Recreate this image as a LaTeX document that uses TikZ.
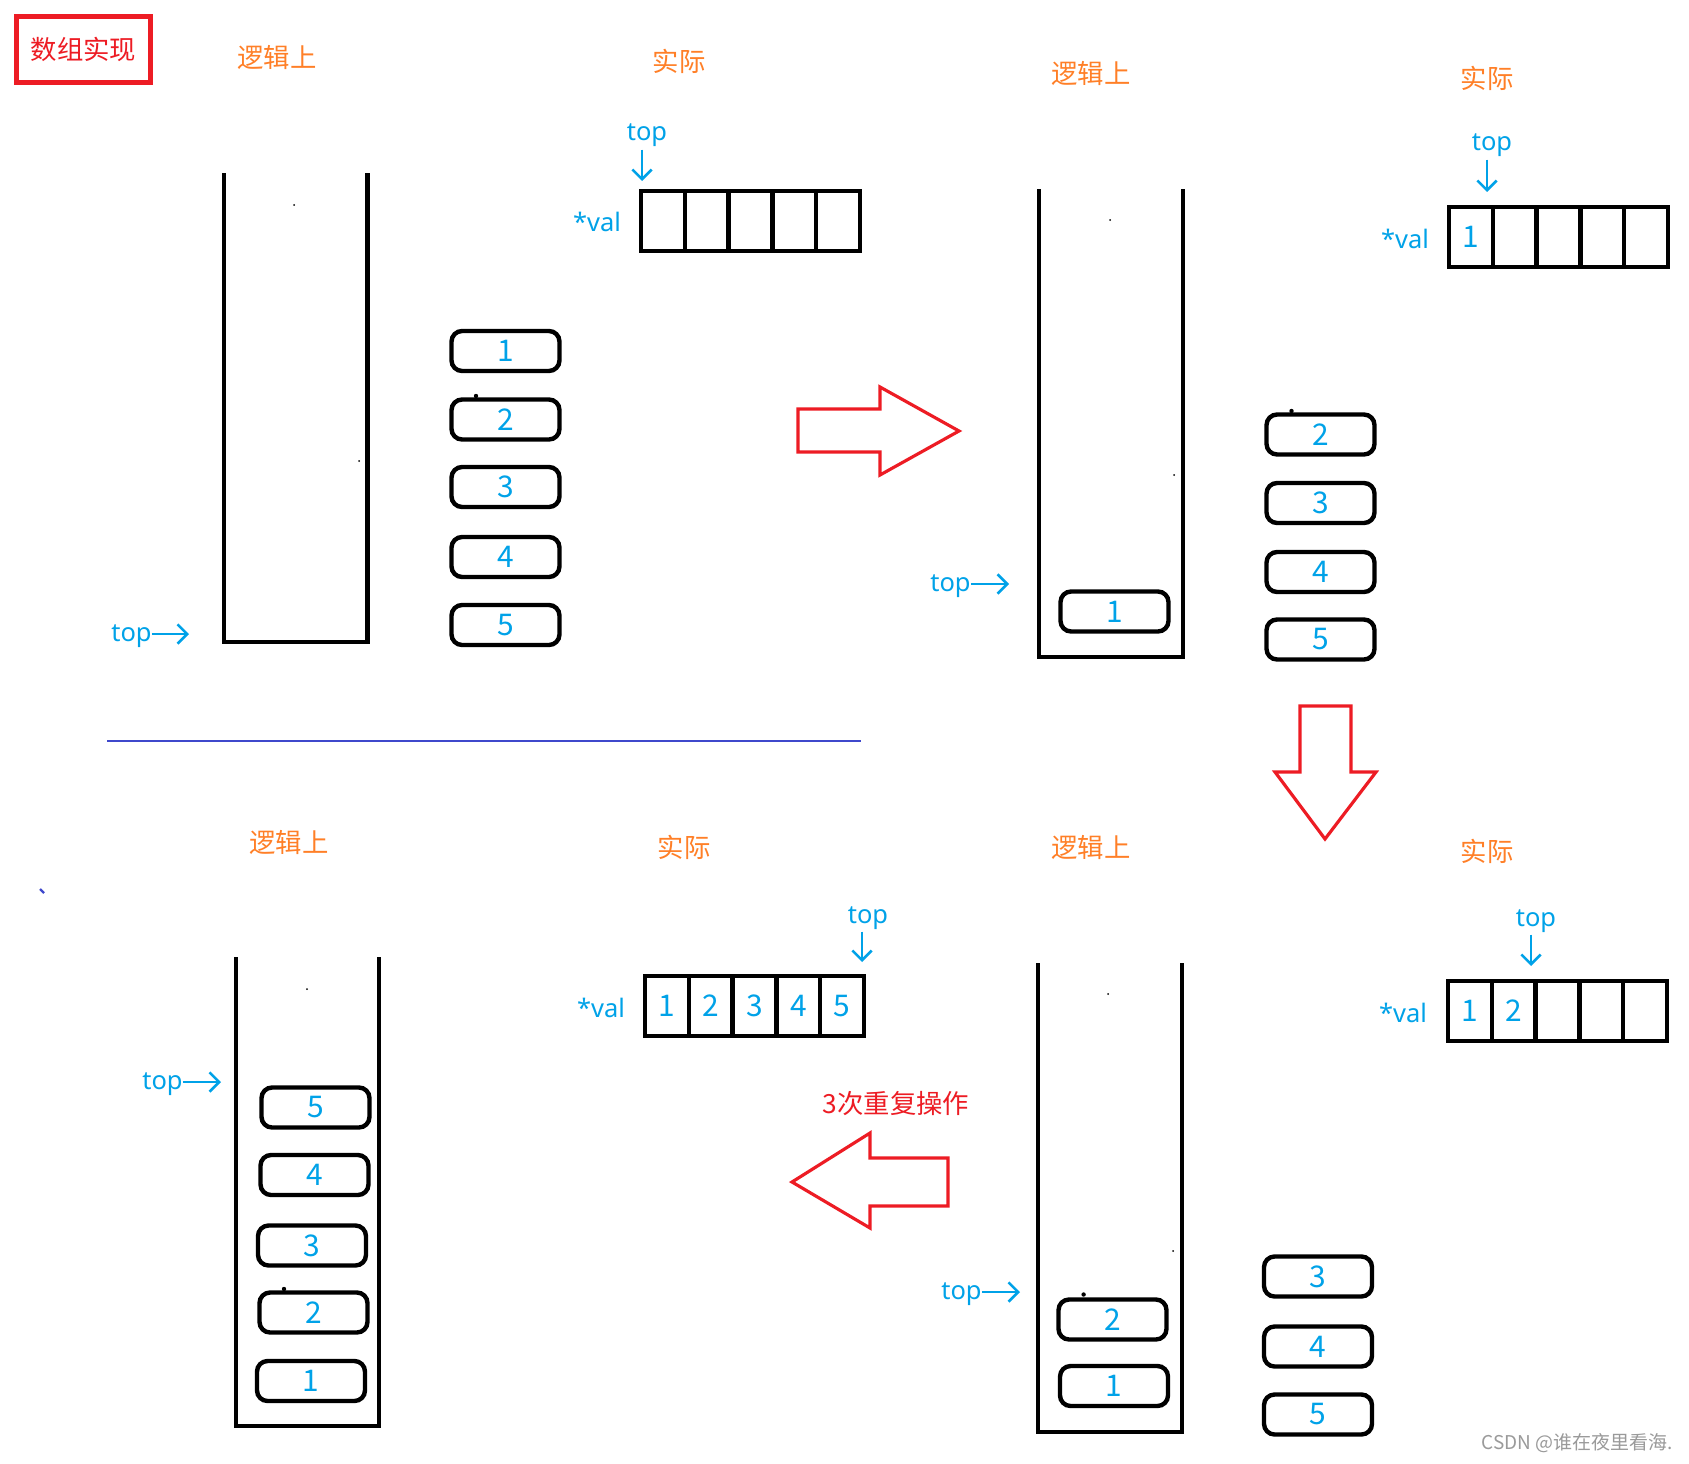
\documentclass[tikz,border=0pt]{standalone}
\usepackage{fontspec}
\newfontfamily\cjk{Noto Sans CJK SC}
\newfontfamily\lat{Noto Sans}
\usetikzlibrary{arrows.meta}
\definecolor{myblue}{HTML}{00A2E8}
\definecolor{myorange}{HTML}{FF7F27}
\definecolor{myred}{HTML}{ED1C24}
\definecolor{lineblue}{HTML}{3F48CC}
\definecolor{wmgray}{HTML}{9A9A9A}
\tikzset{
  stk/.style={line width=2.5pt, line join=miter, line cap=rect},
  elem/.style={draw, line width=2.5pt, rounded corners=6pt, minimum width=2.16cm, minimum height=0.80cm, inner sep=0pt, font=\cjk\fontsize{17}{17}\selectfont, text=myblue},
  cellbox/.style={draw, line width=2.5pt, minimum width=0.876cm, minimum height=1.2cm, inner sep=0pt, font=\cjk\fontsize{17}{17}\selectfont, text=myblue},
  lbl/.style={font=\cjk\fontsize{15}{15}\selectfont, text=myorange, inner sep=0pt},
  bluetxt/.style={font=\lat\fontsize{14.5}{14.5}\selectfont, text=myblue, inner sep=0pt},
  toparrow/.style={draw=myblue, line width=1.45pt, -{Straight Barb[length=5.5pt,width=11pt,line width=1.45pt]}},
  redarrow/.style={draw=myred, line width=1.8pt, line join=miter},
  speck/.style={fill=black},
}
\begin{document}
\begin{tikzpicture}[x=0.02cm,y=-0.02cm]
\useasboundingbox (0,0) rectangle (1689,1463);
\fill[white] (0,0) rectangle (1689,1463);

% title
\node[draw=myred, line width=2.8pt, minimum width=2.68cm, minimum height=1.32cm, inner sep=0pt, text=myred, font=\cjk\fontsize{15}{15}\selectfont] (title) at (83.5,49.5) {数组实现};

% ---------- labels ----------
\node[lbl] (l1) at (277,57) {逻辑上};
\node[lbl] (r1) at (679,61) {实际};
\node[lbl] (l2) at (1091,73) {逻辑上};
\node[lbl] (r2) at (1487,78) {实际};
\node[lbl] (l3) at (289,842) {逻辑上};
\node[lbl] (r3) at (684,847) {实际};
\node[lbl] (l4) at (1091,847) {逻辑上};
\node[lbl] (r4) at (1487,851) {实际};

% ---------- stacks ----------
\draw[stk] (224,175) -- (224,642) -- (367.6,642) -- (367.6,175);
\draw[stk] (1039,191) -- (1039,657) -- (1183,657) -- (1183,191);
\draw[stk] (236,959) -- (236,1426) -- (379,1426) -- (379,959);
\draw[stk] (1038,965) -- (1038,1432) -- (1182,1432) -- (1182,965);

% specks
\foreach \p in {(294,205),(359,461),(1110,220),(1174,475),(307,989),(1108,994),(1173,1251)}
  \fill[speck] \p circle (1);
\foreach \p in {(476,396),(1291.5,411),(284,1289),(1083.6,1294.5)}
  \fill[speck] \p circle (2.2);

% ---------- elements ----------
% panel 1
\node[elem] (a1) at (505.5,351) {1};
\node[elem] (a2) at (505.5,419.5) {2};
\node[elem] (a3) at (505.5,487) {3};
\node[elem] (a4) at (505.5,557) {4};
\node[elem] (a5) at (505.5,625) {5};
% panel 2
\node[elem] (b1) at (1114.5,611.5) {1};
\node[elem] (b2) at (1320.5,434.5) {2};
\node[elem] (b3) at (1320.5,503) {3};
\node[elem] (b4) at (1320.5,572) {4};
\node[elem] (b5) at (1320.5,639.5) {5};
% panel 3
\node[elem] (c5) at (315.5,1107.5) {5};
\node[elem] (c4) at (314.5,1175) {4};
\node[elem] (c3) at (312,1245.5) {3};
\node[elem] (c2) at (313.5,1312.5) {2};
\node[elem] (c1) at (311,1381) {1};
% panel 4
\node[elem] (d2) at (1112.5,1319.5) {2};
\node[elem] (d1) at (1114,1386) {1};
\node[elem] (d3) at (1318,1276.5) {3};
\node[elem] (d4) at (1318,1346.5) {4};
\node[elem] (d5) at (1318,1414.5) {5};

% ---------- arrays ----------
\foreach \i in {1,...,5} {
  \node[cellbox] (A\i) at ({641+21.9+43.8*(\i-1)},221) {};
  \node[cellbox] (B\i) at ({1449+21.9+43.8*(\i-1)},237) {\ifnum\i=1 1\fi};
  \node[cellbox] (C\i) at ({645+21.9+43.8*(\i-1)},1006) {\i};
  \node[cellbox] (D\i) at ({1448+21.9+43.8*(\i-1)},1011) {\ifnum\i<3 \i\fi};
}
\node[bluetxt, anchor=base] (vA) at (597,232) {*val};
\node[bluetxt, anchor=base] (vB) at (1405,248) {*val};
\node[bluetxt, anchor=base] (vC) at (601,1017) {*val};
\node[bluetxt, anchor=base] (vD) at (1403,1022) {*val};

% ---------- top pointers (arrays) ----------
\node[bluetxt, anchor=base] (tA) at (647,141) {top};
\coordinate (pA) at (642,181);
\draw[toparrow, shorten <=1.2pt] (tA.south -| pA) -- (pA);
\node[bluetxt, anchor=base] (tB) at (1492,151) {top};
\coordinate (pB) at (1487,192);
\draw[toparrow, shorten <=1.2pt] (tB.south -| pB) -- (pB);
\node[bluetxt, anchor=base] (tC) at (868,923) {top};
\coordinate (pC) at (862,962);
\draw[toparrow, shorten <=1.2pt] (tC.south -| pC) -- (pC);
\node[bluetxt, anchor=base] (tD) at (1536,926) {top};
\coordinate (pD) at (1531,966);
\draw[toparrow, shorten <=1.2pt] (tD.south -| pD) -- (pD);

% ---------- top pointers (stacks) ----------
\node[bluetxt, anchor=base west] (ts1) at (111,641) {top};
\coordinate (ps1) at (189,634);
\draw[toparrow] (ts1.east |- ps1) -- (ps1);
\node[bluetxt, anchor=base west] (ts2) at (930,591) {top};
\coordinate (ps2) at (1009,584);
\draw[toparrow] (ts2.east |- ps2) -- (ps2);
\node[bluetxt, anchor=base west] (ts3) at (142,1089) {top};
\coordinate (ps3) at (221,1082);
\draw[toparrow] (ts3.east |- ps3) -- (ps3);
\node[bluetxt, anchor=base west] (ts4) at (941,1299) {top};
\coordinate (ps4) at (1020,1292);
\draw[toparrow] (ts4.east |- ps4) -- (ps4);

% ---------- big red arrows ----------
\draw[redarrow] (798,409) -- (880,409) -- (880,387) -- (959,431) -- (880,475) -- (880,452) -- (798,452) -- cycle;
\draw[redarrow] (1300,706) -- (1351,706) -- (1351,772) -- (1376,772) -- (1325,839) -- (1275,772) -- (1300,772) -- cycle;
\draw[redarrow] (948,1158) -- (870,1158) -- (870,1133) -- (792,1182) -- (870,1228) -- (870,1206) -- (948,1206) -- cycle;
\node[font=\cjk\fontsize{15}{15}\selectfont, text=myred, inner sep=0pt] (rep) at (896,1104) {3次重复操作};

% divider line
\draw[lineblue, line width=1.5pt] (107,741) -- (861,741);
\draw[lineblue, line width=1.4pt] (40,889) -- (44,893);

% watermark
\node[font=\cjk\fontsize{10.8}{10.8}\selectfont, text=wmgray, inner sep=0pt] (wm) at (1577,1443) {CSDN @谁在夜里看海.};
\end{tikzpicture}
\end{document}
